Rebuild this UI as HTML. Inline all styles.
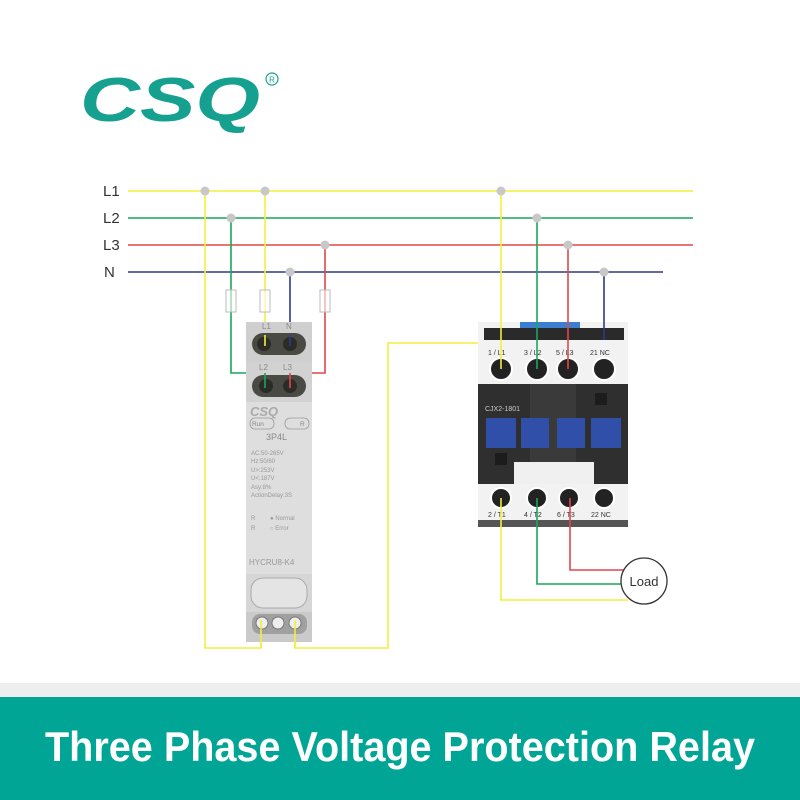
<!DOCTYPE html>
<html><head><meta charset="utf-8"><style>
html,body{margin:0;padding:0;background:#fff;width:800px;height:800px;overflow:hidden}
svg{display:block}
text{font-family:"Liberation Sans",sans-serif}
</style></head><body>
<svg width="800" height="800" viewBox="0 0 800 800" xmlns="http://www.w3.org/2000/svg">
<rect width="800" height="800" fill="#fff"/>
<!-- logo -->
<text x="80" y="121" font-size="62" font-weight="bold" font-style="italic" fill="#16a08f" textLength="180" lengthAdjust="spacingAndGlyphs">CSQ</text>
<circle cx="272" cy="79" r="6" fill="none" stroke="#16a08f" stroke-width="1.2"/>
<text x="272" y="82.5" font-size="8" fill="#16a08f" text-anchor="middle">R</text>

<!-- labels -->
<g font-size="15" fill="#333">
<text x="103" y="196">L1</text><text x="103" y="223">L2</text><text x="103" y="250">L3</text><text x="104" y="277">N</text>
</g>
<g fill="none" stroke-width="1.6">
<line x1="128" y1="191" x2="693" y2="191" stroke="#f4ee3a"/>
<line x1="128" y1="218" x2="693" y2="218" stroke="#1aa65a"/>
<line x1="128" y1="245" x2="693" y2="245" stroke="#e0474c"/>
<line x1="128" y1="272" x2="663" y2="272" stroke="#2e3a8c"/>
<polyline points="205,191 205,648 261,648 261,625" stroke="#f4ee3a"/>
<polyline points="295,625 295,648 388,648 388,343 480,343" stroke="#f4ee3a"/>
<polyline points="265,191 265,343" stroke="#f4ee3a"/>
<polyline points="290,272 290,343" stroke="#2e3a8c"/>
<polyline points="231,218 231,373 265,373 265,385" stroke="#1aa65a"/>
<polyline points="325,245 325,373 290,373 290,385" stroke="#e0474c"/>
</g>
<g fill="#fff" fill-opacity="0.6" stroke="#bbb" stroke-width="1">
<rect x="226" y="290" width="10" height="22"/><rect x="260" y="290" width="10" height="22"/><rect x="320" y="290" width="10" height="22"/>
</g>

<!-- relay body -->
<rect x="246" y="322" width="66" height="320" fill="#dcdcdc"/>
<rect x="246" y="322" width="66" height="40" fill="#cfcfcf"/>
<rect x="252" y="333" width="54" height="22" rx="11" fill="#4a4a44"/>
<circle cx="264" cy="344" r="7" fill="#2b2b28"/><circle cx="290" cy="344" r="7" fill="#2b2b28"/>
<rect x="246" y="362" width="66" height="40" fill="#d2d2d2"/>
<rect x="252" y="375" width="54" height="22" rx="11" fill="#4a4a44"/>
<circle cx="266" cy="386" r="7" fill="#2b2b28"/><circle cx="290" cy="386" r="7" fill="#2b2b28"/>
<line x1="265" y1="373" x2="265" y2="388" stroke="#1aa65a" stroke-width="1.6"/>
<line x1="290" y1="373" x2="290" y2="388" stroke="#e0474c" stroke-width="1.6"/>
<line x1="265" y1="335" x2="265" y2="346" stroke="#f4ee3a" stroke-width="1.6"/>
<line x1="290" y1="335" x2="290" y2="346" stroke="#2e3a8c" stroke-width="1.6"/>
<g font-size="8" fill="#888"><text x="259" y="370">L2</text><text x="283" y="370">L3</text><text x="262" y="329">L1</text><text x="286" y="329">N</text></g>
<rect x="246" y="402" width="66" height="172" fill="#dedede"/>
<text x="250" y="416" font-size="13" font-weight="bold" font-style="italic" fill="#aaa">CSQ</text>
<rect x="250" y="418" width="24" height="11" rx="5" fill="none" stroke="#999" stroke-width="0.8"/>
<rect x="285" y="418" width="24" height="11" rx="5" fill="none" stroke="#999" stroke-width="0.8"/>
<g font-size="6.5" fill="#888"><text x="252" y="426">Run</text><text x="300" y="426">R</text></g>
<text x="266" y="440" font-size="9" fill="#888">3P4L</text>
<g font-size="6" fill="#999">
<text x="251" y="455">AC:50-265V</text><text x="251" y="463">Hz:50/60</text><text x="251" y="472">U&gt;:253V</text>
<text x="251" y="480">U&lt;:187V</text><text x="251" y="489">Asy:8%</text><text x="251" y="497">ActionDelay:3S</text>
<text x="251" y="520">R</text><text x="270" y="520">●  Normal</text><text x="251" y="530">R</text><text x="270" y="530">○  Error</text>
</g>
<text x="249" y="565" font-size="8" fill="#999">HYCRU8-K4</text>
<rect x="246" y="574" width="66" height="38" fill="#d6d6d6"/>
<rect x="251" y="578" width="56" height="30" rx="12" fill="#e4e4e4" stroke="#aaa"/>
<rect x="246" y="612" width="66" height="30" fill="#cacaca"/>
<rect x="252" y="614" width="55" height="20" rx="8" fill="#a0a0a0"/>
<circle cx="262" cy="623" r="6" fill="#eee" stroke="#777"/><circle cx="278" cy="623" r="6" fill="#eee" stroke="#777"/><circle cx="295" cy="623" r="6" fill="#eee" stroke="#777"/>
<line x1="261" y1="620" x2="261" y2="648" stroke="#f4ee3a" stroke-width="1.6"/>
<line x1="295" y1="620" x2="295" y2="648" stroke="#f4ee3a" stroke-width="1.6"/>

<!-- contactor -->
<rect x="478" y="322" width="150" height="62" fill="#f2f2f2"/>
<rect x="520" y="322" width="60" height="6" fill="#3c7fd0"/>
<rect x="484" y="328" width="140" height="12" fill="#2a2a2a"/>
<g font-size="7" fill="#333"><text x="488" y="355">1 / L1</text><text x="524" y="355">3 / L2</text><text x="556" y="355">5 / L3</text><text x="590" y="355">21 NC</text></g>
<g fill="#222" stroke="#fff" stroke-width="2">
<circle cx="501" cy="369" r="11"/><circle cx="537" cy="369" r="11"/><circle cx="568" cy="369" r="11"/><circle cx="604" cy="369" r="11"/>
</g>
<rect x="478" y="384" width="150" height="100" fill="#2f2f2f"/>
<rect x="530" y="384" width="46" height="100" fill="#3a3a3a"/>
<text x="485" y="411" font-size="7" fill="#ccc">CJX2-1801</text>
<rect x="486" y="418" width="30" height="30" fill="#2f4fa8"/>
<rect x="521" y="418" width="28" height="30" fill="#2f4fa8"/>
<rect x="557" y="418" width="28" height="30" fill="#2f4fa8"/>
<rect x="591" y="418" width="30" height="30" fill="#2f4fa8"/>
<rect x="595" y="393" width="12" height="12" fill="#1c1c1c"/><rect x="495" y="453" width="12" height="12" fill="#1c1c1c"/>
<rect x="514" y="462" width="80" height="22" fill="#f0f0f0"/>
<rect x="478" y="484" width="150" height="42" fill="#f2f2f2"/>
<rect x="478" y="520" width="150" height="7" fill="#555"/>
<g fill="#222" stroke="#fff" stroke-width="2">
<circle cx="501" cy="498" r="10"/><circle cx="537" cy="498" r="10"/><circle cx="569" cy="498" r="10"/><circle cx="604" cy="498" r="10"/>
</g>
<g font-size="7" fill="#333"><text x="488" y="517">2 / T1</text><text x="524" y="517">4 / T2</text><text x="557" y="517">6 / T3</text><text x="591" y="517">22 NC</text></g>
<g fill="none" stroke-width="1.6">
<line x1="501" y1="191" x2="501" y2="369" stroke="#f4ee3a"/>
<line x1="537" y1="218" x2="537" y2="369" stroke="#1aa65a"/>
<line x1="568" y1="245" x2="568" y2="369" stroke="#e0474c"/>
<line x1="604" y1="272" x2="604" y2="340" stroke="#2e3a8c"/>
<polyline points="501,498 501,600 628,600" stroke="#f4ee3a"/>
<polyline points="537,498 537,584 621,584" stroke="#1aa65a"/>
<polyline points="570,498 570,570 624,570" stroke="#e0474c"/>
</g>
<circle cx="644" cy="581" r="23" fill="#fff" stroke="#333" stroke-width="1.3"/>
<text x="644" y="586" font-size="13" fill="#333" text-anchor="middle">Load</text>
<g fill="#c8c8c8">
<circle cx="205" cy="191" r="4.5"/><circle cx="265" cy="191" r="4.5"/><circle cx="501" cy="191" r="4.5"/>
<circle cx="231" cy="218" r="4.5"/><circle cx="537" cy="218" r="4.5"/>
<circle cx="325" cy="245" r="4.5"/><circle cx="568" cy="245" r="4.5"/>
<circle cx="290" cy="272" r="4.5"/><circle cx="604" cy="272" r="4.5"/>
</g>
<!-- banner -->
<rect x="0" y="683" width="800" height="14" fill="#eeeeee"/>
<rect x="0" y="697" width="800" height="103" fill="#00a596"/>
<text x="400" y="761" font-size="42" font-weight="bold" fill="#fff" text-anchor="middle" textLength="710" lengthAdjust="spacingAndGlyphs">Three Phase Voltage Protection Relay</text>
</svg>
</body></html>
